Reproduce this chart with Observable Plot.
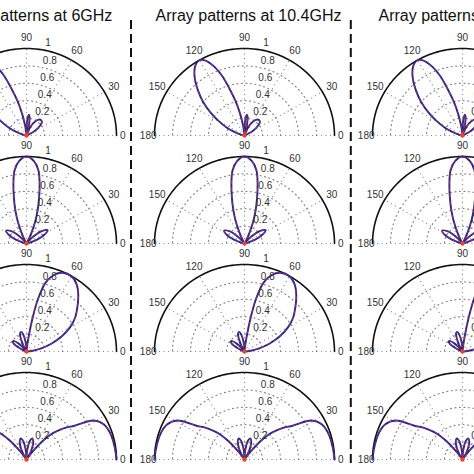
<!DOCTYPE html>
<html><head><meta charset="utf-8">
<script src="https://cdn.jsdelivr.net/npm/d3@7"></script>
<script src="https://cdn.jsdelivr.net/npm/@observablehq/plot@0.6"></script>
<style>html,body{margin:0;padding:0;background:#fff;} #chart{width:474px;height:474px;overflow:hidden;}</style>
</head><body><div id="chart"></div>
<script>
// ---- data ----
const titles = ["Array patterns at 6GHz", "Array patterns at 10.4GHz", "Array patterns"];
const angleTicks = [0, 30, 60, 90, 120, 150, 180];
const radiusTicks = [0.2, 0.4, 0.6, 0.8, 1];
// [angle in degrees, normalised magnitude]
const beam120 = [[180,0],[170,0.02],[165,0.05],[160,0.12],[155,0.22],[150,0.33],[145,0.46],[140,0.6],[135,0.73],[130,0.86],[125,0.96],[121,1.0],[117,0.97],[113,0.86],[110,0.73],[107,0.55],[104,0.4],[101,0.25],[98,0.12],[95,0.03],[93,0],[90,0.08],[87,0.18],[84,0.24],[81,0.22],[78,0.14],[75,0.05],[73,0],[68,0.08],[62,0.16],[55,0.22],[48,0.24],[42,0.23],[36,0.18],[30,0.11],[25,0.04],[22,0],[15,0.02],[8,0.02],[0,0]];
const beam90 = [[180,0],[172,0.01],[166,0.04],[160,0.12],[154,0.21],[147,0.27],[140,0.22],[134,0.12],[128,0.03],[124,0],[119,0],[117,0.04],[114,0.14],[111,0.27],[108,0.4],[105,0.54],[102,0.7],[99,0.85],[95,0.95],[90,1.0],[85,0.95],[81,0.85],[78,0.7],[75,0.54],[72,0.4],[69,0.27],[66,0.14],[63,0.04],[61,0],[56,0],[52,0.03],[46,0.12],[40,0.22],[33,0.28],[26,0.21],[20,0.12],[14,0.04],[8,0.01],[0,0]];
const beam60 = [[180,0],[170,0.01],[162,0],[158,0.03],[152,0.1],[146,0.18],[140,0.19],[134,0.13],[128,0.05],[122,0],[119,0.04],[114,0.14],[109,0.22],[104,0.23],[98,0.16],[92,0.05],[85,0],[84,0.05],[82,0.18],[80,0.4],[78,0.62],[75,0.82],[71,0.93],[66,0.99],[60,1.0],[54,0.95],[48,0.86],[42,0.76],[36,0.67],[30,0.56],[24,0.43],[18,0.29],[12,0.16],[6,0.06],[0,0]];
const broad = [[180,1.0],[172,0.99],[163,0.98],[155,0.95],[149,0.87],[144,0.66],[140,0.57],[136,0.47],[133,0.39],[130,0.27],[127,0.12],[125,0.04],[124,0],[120,0.06],[115,0.15],[110,0.22],[105,0.25],[100,0.22],[95,0.12],[91,0.02],[90,0],[89,0.02],[85,0.12],[80,0.22],[75,0.25],[70,0.22],[65,0.15],[60,0.06],[56,0],[55,0.04],[53,0.12],[50,0.27],[47,0.39],[44,0.47],[40,0.57],[36,0.66],[31,0.87],[25,0.95],[17,0.98],[8,0.99],[0,1.0]];
const rowPatterns = [beam120, beam90, beam60, broad];

// ---- layout (data units: one panel radius = 1) ----
const W = 474, H = 474;
const RX = 90, RY = 87;           // px per unit
const CX0 = 26, BASE0 = 135;      // first panel centre, px
const COL_STEP = 218 / RX, ROW_STEP = 108 / RY;
const xDomain = [-CX0 / RX, (W - CX0) / RX];
const yDomain = [(BASE0 - H) / RY, BASE0 / RY];
const rad = d => d * Math.PI / 180;

const panels = [];
for (let c = 0; c < 3; c++) for (let r = 0; r < 4; r++)
  panels.push({c, r, key: c + "-" + r, cx: c * COL_STEP, cy: -r * ROW_STEP});
const at = (p, deg, v) => ({x: p.cx + v * Math.cos(rad(deg)), y: p.cy + v * Math.sin(rad(deg))});

const frameAngles = d3.range(0, 181, 2);
const gridCircles = panels.flatMap(p => radiusTicks.filter(v => v < 1).flatMap(v =>
  frameAngles.map(a => ({...at(p, a, v), z: p.key + v}))));
const outerArc = panels.flatMap(p => frameAngles.map(a => ({...at(p, a, 1), z: p.key})));
const spokes = panels.flatMap(p => [30, 60, 90, 120, 150].map(a => {
  const e = at(p, a, 1); return {x1: p.cx, y1: p.cy, x2: e.x, y2: e.y};
}).concat([{x1: p.cx - 1, y1: p.cy, x2: p.cx + 1, y2: p.cy}]));
const angleLabels = panels.flatMap(p => angleTicks.map(a => {
  const rr = (a === 0 || a === 180) ? 1.07 : 1.12;
  const pt = (a === 0 || a === 180) ? {x: p.cx + rr * Math.cos(rad(a)), y: p.cy} : at(p, a, rr);
  return {...pt, t: String(a)};
}));
const radLabels = panels.flatMap(p => radiusTicks.map(v => ({
  x: p.cx + v * Math.cos(rad(82)) + 0.07, y: p.cy + v * Math.sin(rad(82)) + 0.07, t: String(v)})));
const curve = panels.flatMap(p => rowPatterns[p.r].map(([a, v]) => ({...at(p, a, v), z: p.key})));
const origins = panels.map(p => ({x: p.cx, y: p.cy}));

const sepTop = (BASE0 - 20) / RY, sepBot = (BASE0 - 466) / RY;
const separators = [0.5 * COL_STEP - 0.05, 1.5 * COL_STEP - 0.03];
const titleY = (BASE0 - 15) / RY;
const titleRows = titles.map((t, i) => ({t, x: i * COL_STEP, y: titleY}));

const font = "'Liberation Sans', Arial, Helvetica, sans-serif";
const chart = Plot.plot({
  width: W, height: H, margin: 0,
  style: {background: "#fff", fontFamily: font},
  x: {domain: xDomain, axis: null},
  y: {domain: yDomain, axis: null},
  marks: [
    Plot.line(gridCircles, {x: "x", y: "y", z: "z", stroke: "#8a8a8a", strokeWidth: 1.2, strokeDasharray: "1,3.5"}),
    Plot.link(spokes, {x1: "x1", y1: "y1", x2: "x2", y2: "y2", stroke: "#8a8a8a", strokeWidth: 1.2, strokeDasharray: "1,3.5"}),
    Plot.line(outerArc, {x: "x", y: "y", z: "z", stroke: "#111", strokeWidth: 1.6}),
    Plot.line(curve, {x: "x", y: "y", z: "z", stroke: "#26268c", strokeWidth: 1.9, curve: "catmull-rom"}),
    Plot.line(curve, {x: "x", y: "y", z: "z", stroke: "#d8342a", strokeWidth: 0.9, strokeDasharray: "3,4", strokeOpacity: 0.8, curve: "catmull-rom"}),
    Plot.dot(origins, {x: "x", y: "y", r: 2.2, fill: "#e8452a"}),
    Plot.text(angleLabels, {x: "x", y: "y", text: "t", fontSize: 10, fill: "#333", textAnchor: "middle", lineAnchor: "middle"}),
    Plot.text(radLabels, {x: "x", y: "y", text: "t", fontSize: 10, fill: "#333", textAnchor: "start", lineAnchor: "middle"}),
    Plot.ruleX(separators, {y1: sepTop, y2: sepBot, stroke: "#111", strokeWidth: 2, strokeDasharray: "9,5"}),
    Plot.text(titleRows.slice(0, 2), {x: "x", y: "y", text: "t", fontSize: 16, fill: "#111", textAnchor: "middle", lineAnchor: "middle", dx: 4}),
    Plot.text(titleRows.slice(2), {x: "x", y: "y", text: "t", fontSize: 16, fill: "#111", textAnchor: "start", lineAnchor: "middle", dx: -84})
  ]
});
document.getElementById("chart").append(chart);
</script>
</body></html>
